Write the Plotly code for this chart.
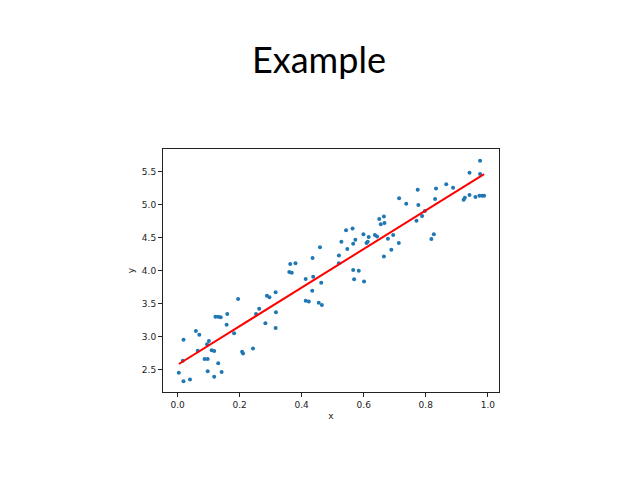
import numpy as np
import plotly.graph_objects as go

# scatter samples
x_vals = [0.004, 0.019, 0.017, 0.019, 0.040, 0.059, 0.070, 0.065, 0.087, 0.097,
          0.095, 0.101, 0.110, 0.118, 0.097, 0.118, 0.131, 0.142, 0.122, 0.131,
          0.139, 0.158, 0.160, 0.182, 0.195, 0.208, 0.211, 0.243, 0.253, 0.263,
          0.283, 0.288, 0.296, 0.316, 0.317, 0.316, 0.360, 0.368, 0.363, 0.380,
          0.413, 0.413, 0.423, 0.437, 0.435, 0.434, 0.455, 0.463, 0.465, 0.459,
          0.520, 0.520, 0.528, 0.543, 0.547, 0.564, 0.566, 0.573, 0.566, 0.584,
          0.569, 0.601, 0.599, 0.609, 0.613, 0.616, 0.636, 0.643, 0.650, 0.665,
          0.655, 0.667, 0.665, 0.678, 0.689, 0.695, 0.714, 0.713, 0.737, 0.770,
          0.774, 0.776, 0.788, 0.797, 0.818, 0.826, 0.830, 0.833, 0.866, 0.888,
          0.922, 0.926, 0.941, 0.941, 0.960, 0.975, 0.975, 0.973, 0.982, 0.988]
y_vals = [2.455, 2.955, 2.636, 2.323, 2.353, 3.086, 3.030, 2.788, 2.662, 2.662,
          2.884, 2.934, 2.793, 2.783, 2.475, 2.394, 2.596, 2.465, 3.303, 3.303,
          3.293, 3.182, 3.343, 3.051, 3.571, 2.773, 2.747, 2.823, 3.343, 3.424,
          3.202, 3.621, 3.596, 3.672, 3.369, 3.131, 3.980, 3.970, 4.101, 4.111,
          3.874, 3.545, 3.535, 3.909, 4.192, 3.697, 3.515, 3.818, 3.480, 4.354,
          4.232, 4.111, 4.439, 4.611, 4.328, 4.641, 4.409, 4.470, 4.010, 4.000,
          3.869, 3.838, 4.551, 4.419, 4.439, 4.510, 4.540, 4.520, 4.783, 4.823,
          4.702, 4.722, 4.217, 4.485, 4.318, 4.540, 5.096, 4.419, 5.015, 4.758,
          5.227, 4.995, 4.828, 4.904, 4.480, 4.551, 5.086, 5.247, 5.308, 5.258,
          5.076, 5.106, 5.485, 5.146, 5.116, 5.667, 5.465, 5.136, 5.136, 5.136]

x_ticks = [0.0, 0.2, 0.4, 0.6, 0.8, 1.0]
y_ticks = [2.5, 3.0, 3.5, 4.0, 4.5, 5.0, 5.5]

# least squares line, same as the original fit
slope, intercept = np.polyfit(x_vals, y_vals, 1)
x_line = np.array([min(x_vals), max(x_vals)])
y_line = slope * x_line + intercept

fig = go.Figure()
fig.add_trace(go.Scatter(x=x_vals, y=y_vals, mode='markers',
                         marker=dict(color='#1f77b4', size=4), hoverinfo='skip'))
fig.add_trace(go.Scatter(x=x_line, y=y_line, mode='lines',
                         line=dict(color='red', width=2), hoverinfo='skip'))

axis_style = dict(showgrid=False, zeroline=False, showline=True, mirror=True,
                  linecolor='#222', linewidth=1, ticks='outside', ticklen=4,
                  tickcolor='#222', tickfont=dict(family='DejaVu Sans', size=9, color='#222'),
                  tickformat='.1f')

# page body has an 8px margin, so the figure is a bit smaller than the window
W, H = 630, 470
L, R, T, B = 155, 139, 141, 86
fig.update_layout(
    width=W, height=H,
    margin=dict(l=L, r=R, t=T, b=B),
    paper_bgcolor='white', plot_bgcolor='white',
    showlegend=False,
    xaxis=dict(range=[-0.047, 1.036], tickvals=x_ticks, **axis_style,
               title=dict(text='x', font=dict(family='DejaVu Sans', size=9, color='#222'),
                          standoff=3)),
    yaxis=dict(range=[2.162, 5.844], tickvals=y_ticks, **axis_style,
               title=dict(text='y', font=dict(family='DejaVu Sans', size=9, color='#222'),
                          standoff=5)),
    annotations=[dict(text='Example',
                      x=(311 - L) / (W - L - R), y=1 + (T - 51) / (H - T - B),
                      xref='paper', yref='paper', xanchor='center', yanchor='middle',
                      showarrow=False, font=dict(family='Lato', size=36, color='black'))],
)

fig.write_html("out.html")
